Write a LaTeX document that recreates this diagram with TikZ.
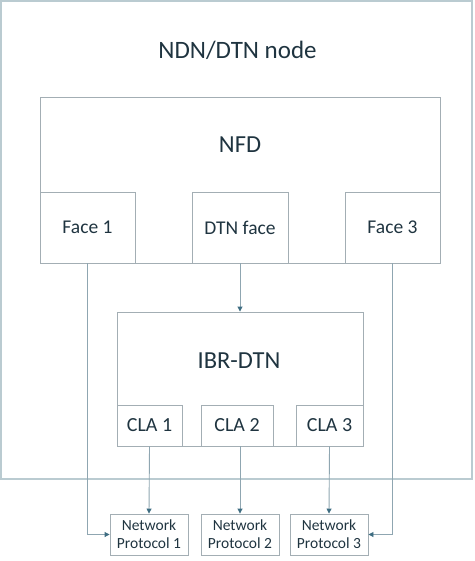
\documentclass[tikz,border=0pt]{standalone}
\usepackage{fontspec}
\setmainfont{Carlito}
\usetikzlibrary{arrows.meta}
\definecolor{boxline}{HTML}{A3AEB4}
\definecolor{outerline}{HTML}{BACBD1}
\definecolor{wireline}{HTML}{8FA6B1}
\definecolor{tipcol}{HTML}{3E6D82}
\definecolor{txt}{HTML}{1F3440}
\tikzset{
  block/.style={draw=boxline, line width=0.9pt, inner sep=0pt},
  lbl/.style={text=txt, inner sep=0pt, align=center},
  wire/.style={draw=wireline, line width=0.9pt, -{Triangle[width=5pt,length=5pt,color=tipcol]}},
  plain/.style={draw=wireline, line width=0.9pt}
}
\begin{document}
\begin{tikzpicture}[x=1pt, y=-1pt]
    \useasboundingbox (0, 0) rectangle (474, 561);

    % outer node
    \draw[draw=outerline, line width=2pt] (1, 1) rectangle (472, 479);
    \node[lbl, font=\fontsize{25}{28}\selectfont] (ndnlbl) at (237.5, 50) {NDN/DTN node};

    % NFD with its faces
    \node[block, minimum width=400, minimum height=166] (nfd) at (240, 180) {};
    \node[lbl, font=\fontsize{24.5}{27}\selectfont] (nfdlbl) at (240, 145) {NFD};
    \node[block, minimum width=95, minimum height=71] (face1) at (87.5, 227.5) {};
    \node[block, minimum width=96, minimum height=71] (dtnface) at (240, 227.5) {};
    \node[block, minimum width=95, minimum height=71] (face3) at (392.5, 227.5) {};
    \node[lbl, font=\fontsize{19.5}{22}\selectfont] at (face1) {Face 1};
    \node[lbl, font=\fontsize{19.5}{22}\selectfont] at (dtnface) {DTN face};
    \node[lbl, font=\fontsize{19.5}{22}\selectfont] at (face3) {Face 3};

    % IBR-DTN with its CLAs
    \node[block, minimum width=246, minimum height=134] (ibr) at (240, 379) {};
    \node[lbl, font=\fontsize{24.5}{27}\selectfont] (ibrlbl) at (239, 361) {IBR-DTN};
    \node[block, minimum width=65, minimum height=41] (cla1) at (149.5, 425.5) {};
    \node[block, minimum width=72, minimum height=41] (cla2) at (237, 425.5) {};
    \node[block, minimum width=67, minimum height=41] (cla3) at (329.5, 425.5) {};
    \node[lbl, font=\fontsize{20}{23}\selectfont] at (cla1) {CLA 1};
    \node[lbl, font=\fontsize{20}{23}\selectfont] at (cla2) {CLA 2};
    \node[lbl, font=\fontsize{20}{23}\selectfont] at (cla3) {CLA 3};

    % network protocols
    \node[block, minimum width=78, minimum height=41, lbl, font=\fontsize{15.5}{18}\selectfont] (np1) at (149, 534.5) {Network\\Protocol 1};
    \node[block, minimum width=78, minimum height=41, lbl, font=\fontsize{15.5}{18}\selectfont] (np2) at (240, 534.5) {Network\\Protocol 2};
    \node[block, minimum width=78, minimum height=41, lbl, font=\fontsize{15.5}{18}\selectfont] (np3) at (329, 534.5) {Network\\Protocol 3};

    \draw[wire] (dtnface.south) -- (ibr.north);
    \draw[wire] (face1.south) |- (np1.west);
    \draw[wire] (face3.south) |- (np3.east);
    \draw[wire] (cla1.south) -- (np1.north);
    \draw[wire] (np2.north |- cla2.south) -- (np2.north);
    \draw[wire] (cla3.south) -- (np3.north);
  \end{tikzpicture}
\end{document}
